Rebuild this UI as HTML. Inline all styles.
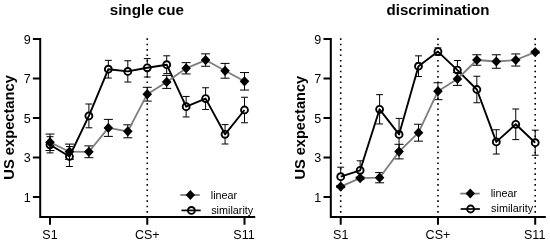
<!DOCTYPE html>
<html><head><meta charset="utf-8"><title>US expectancy</title>
<style>
html,body{margin:0;padding:0;background:#fff;}
svg{display:block;}
text{font-family:"Liberation Sans",Arial,sans-serif;fill:#000;}
.t{font-size:12.5px;}
.l{font-size:10.8px;}
.ti{font-size:15.2px;font-weight:bold;}
.yl{font-size:14.7px;font-weight:bold;}
</style></head><body>
<svg width="550" height="243" viewBox="0 0 550 243">
<rect width="550" height="243" fill="#fff"/>
<text transform="translate(13.8 127.4) rotate(-90)" text-anchor="middle" class="yl">US expectancy</text>
<text transform="translate(304.7 127.7) rotate(-90)" text-anchor="middle" class="yl" style="font-size:14.6px">US expectancy</text>
<line x1="147.25" y1="38.3" x2="147.25" y2="216" stroke="#000" stroke-width="1.6" stroke-dasharray="1.6 3.8"/>
<path d="M40.20 37.9V217.1H255.20" stroke="#000" stroke-width="2" fill="none" stroke-linejoin="miter"/>
<path d="M32.90 197.05H40.20M32.90 157.55H40.20M32.90 118.05H40.20M32.90 78.55H40.20M32.90 39.05H40.20M50.00 217.0V224.7M147.25 217.0V224.7M244.50 217.0V224.7" stroke="#000" stroke-width="2" fill="none"/>
<text x="30.60" y="202.45" text-anchor="end" class="t">1</text>
<text x="30.60" y="162.25" text-anchor="end" class="t">3</text>
<text x="30.60" y="122.75" text-anchor="end" class="t">5</text>
<text x="30.60" y="83.25" text-anchor="end" class="t">7</text>
<text x="30.60" y="43.75" text-anchor="end" class="t">9</text>
<text x="50.00" y="239.2" text-anchor="middle" class="t">S1</text>
<text x="147.25" y="239.2" text-anchor="middle" class="t">CS+</text>
<text x="244.00" y="239.2" text-anchor="middle" class="t">S11</text>
<text x="146.85" y="14.9" text-anchor="middle" class="ti" style="font-size:15.2px">single cue</text>
<path d="M50.00 136.70V152.90M46.55 136.70h6.9M46.55 152.90h6.9M69.45 146.50V166.50M66.00 146.50h6.9M66.00 166.50h6.9M88.90 104.00V127.80M85.45 104.00h6.9M85.45 127.80h6.9M108.35 60.35V78.05M104.90 60.35h6.9M104.90 78.05h6.9M127.80 60.75V82.05M124.35 60.75h6.9M124.35 82.05h6.9M147.25 58.60V77.00M143.80 58.60h6.9M143.80 77.00h6.9M166.70 55.80V73.60M163.25 55.80h6.9M163.25 73.60h6.9M186.15 96.45V116.95M182.70 96.45h6.9M182.70 116.95h6.9M205.60 87.75V109.45M202.15 87.75h6.9M202.15 109.45h6.9M225.05 124.60V144.00M221.60 124.60h6.9M221.60 144.00h6.9M244.50 97.25V122.75M241.05 97.25h6.9M241.05 122.75h6.9" stroke="#000" stroke-width="1" fill="none"/>
<circle cx="50.00" cy="144.80" r="3.45" fill="#fff" stroke="#000" stroke-width="1.9"/>
<circle cx="69.45" cy="156.50" r="3.45" fill="#fff" stroke="#000" stroke-width="1.9"/>
<circle cx="88.90" cy="115.90" r="3.45" fill="#fff" stroke="#000" stroke-width="1.9"/>
<circle cx="108.35" cy="69.20" r="3.45" fill="#fff" stroke="#000" stroke-width="1.9"/>
<circle cx="127.80" cy="71.40" r="3.45" fill="#fff" stroke="#000" stroke-width="1.9"/>
<circle cx="147.25" cy="67.80" r="3.45" fill="#fff" stroke="#000" stroke-width="1.9"/>
<circle cx="166.70" cy="64.70" r="3.45" fill="#fff" stroke="#000" stroke-width="1.9"/>
<circle cx="186.15" cy="106.70" r="3.45" fill="#fff" stroke="#000" stroke-width="1.9"/>
<circle cx="205.60" cy="98.60" r="3.45" fill="#fff" stroke="#000" stroke-width="1.9"/>
<circle cx="225.05" cy="134.30" r="3.45" fill="#fff" stroke="#000" stroke-width="1.9"/>
<circle cx="244.50" cy="110.00" r="3.45" fill="#fff" stroke="#000" stroke-width="1.9"/>
<path d="M50.00 144.80L69.45 156.50L88.90 115.90L108.35 69.20L127.80 71.40L147.25 67.80L166.70 64.70L186.15 106.70L205.60 98.60L225.05 134.30L244.50 110.00" stroke="#000" stroke-width="1.9" fill="none" stroke-linejoin="round"/>
<path d="M50.00 134.05V150.55M45.50 134.05h9.0M45.50 150.55h9.0M69.45 144.10V159.30M64.95 144.10h9.0M64.95 159.30h9.0M88.90 145.90V157.70M84.40 145.90h9.0M84.40 157.70h9.0M108.35 119.40V136.40M103.85 119.40h9.0M103.85 136.40h9.0M127.80 124.80V137.80M123.30 124.80h9.0M123.30 137.80h9.0M147.25 87.30V101.10M142.75 87.30h9.0M142.75 101.10h9.0M166.70 75.40V88.40M162.20 75.40h9.0M162.20 88.40h9.0M186.15 62.65V73.95M181.65 62.65h9.0M181.65 73.95h9.0M205.60 53.85V66.25M201.10 53.85h9.0M201.10 66.25h9.0M225.05 63.40V78.20M220.55 63.40h9.0M220.55 78.20h9.0M244.50 72.55V90.05M240.00 72.55h9.0M240.00 90.05h9.0" stroke="#000" stroke-width="1" fill="none"/>
<path d="M50.00 142.30L69.45 151.70L88.90 151.80L108.35 127.90L127.80 131.30L147.25 94.20L166.70 81.90L186.15 68.30L205.60 60.05L225.05 70.80L244.50 81.30" stroke="#7e7e7e" stroke-width="1.8" fill="none" stroke-linejoin="round"/>
<path d="M50.00 137.20l4.8 5.1l-4.8 5.1l-4.8 -5.1z" fill="#000"/>
<path d="M69.45 146.60l4.8 5.1l-4.8 5.1l-4.8 -5.1z" fill="#000"/>
<path d="M88.90 146.70l4.8 5.1l-4.8 5.1l-4.8 -5.1z" fill="#000"/>
<path d="M108.35 122.80l4.8 5.1l-4.8 5.1l-4.8 -5.1z" fill="#000"/>
<path d="M127.80 126.20l4.8 5.1l-4.8 5.1l-4.8 -5.1z" fill="#000"/>
<path d="M147.25 89.10l4.8 5.1l-4.8 5.1l-4.8 -5.1z" fill="#000"/>
<path d="M166.70 76.80l4.8 5.1l-4.8 5.1l-4.8 -5.1z" fill="#000"/>
<path d="M186.15 63.20l4.8 5.1l-4.8 5.1l-4.8 -5.1z" fill="#000"/>
<path d="M205.60 54.95l4.8 5.1l-4.8 5.1l-4.8 -5.1z" fill="#000"/>
<path d="M225.05 65.70l4.8 5.1l-4.8 5.1l-4.8 -5.1z" fill="#000"/>
<path d="M244.50 76.20l4.8 5.1l-4.8 5.1l-4.8 -5.1z" fill="#000"/>
<line x1="180.3" y1="195.0" x2="199.8" y2="195.0" stroke="#7e7e7e" stroke-width="1.8"/>
<path d="M190.4 190.0l4.7 5.0l-4.7 5.0l-4.7 -5.0z" fill="#000"/>
<text x="210.8" y="198.60" class="l">linear</text>
<circle cx="191.4" cy="210.4" r="3.45" fill="#fff" stroke="#000" stroke-width="1.9"/>
<line x1="181.5" y1="210.4" x2="200.7" y2="210.4" stroke="#000" stroke-width="1.7"/>
<text x="211.20000000000002" y="213.60" class="l">similarity</text>
<line x1="340.70" y1="38.3" x2="340.70" y2="216" stroke="#000" stroke-width="1.6" stroke-dasharray="1.6 3.8"/>
<line x1="437.95" y1="38.3" x2="437.95" y2="216" stroke="#000" stroke-width="1.6" stroke-dasharray="1.6 3.8"/>
<line x1="535.20" y1="38.3" x2="535.20" y2="216" stroke="#000" stroke-width="1.6" stroke-dasharray="1.6 3.8"/>
<path d="M330.80 37.9V217.1H545.80" stroke="#000" stroke-width="2" fill="none" stroke-linejoin="miter"/>
<path d="M323.50 197.05H330.80M323.50 157.55H330.80M323.50 118.05H330.80M323.50 78.55H330.80M323.50 39.05H330.80M340.70 217.0V224.7M437.95 217.0V224.7M535.20 217.0V224.7" stroke="#000" stroke-width="2" fill="none"/>
<text x="321.20" y="202.45" text-anchor="end" class="t">1</text>
<text x="321.20" y="162.25" text-anchor="end" class="t">3</text>
<text x="321.20" y="122.75" text-anchor="end" class="t">5</text>
<text x="321.20" y="83.25" text-anchor="end" class="t">7</text>
<text x="321.20" y="43.75" text-anchor="end" class="t">9</text>
<text x="340.70" y="239.2" text-anchor="middle" class="t">S1</text>
<text x="437.95" y="239.2" text-anchor="middle" class="t">CS+</text>
<text x="534.70" y="239.2" text-anchor="middle" class="t">S11</text>
<text x="437.95" y="14.9" text-anchor="middle" class="ti" style="font-size:15.05px">discrimination</text>
<path d="M340.70 167.20V186.20M337.25 167.20h6.9M337.25 186.20h6.9M360.15 160.80V179.80M356.70 160.80h6.9M356.70 179.80h6.9M379.60 94.65V123.95M376.15 94.65h6.9M376.15 123.95h6.9M399.05 118.40V150.40M395.60 118.40h6.9M395.60 150.40h6.9M418.50 55.85V76.55M415.05 55.85h6.9M415.05 76.55h6.9M437.95 47.90V55.30M434.50 47.90h6.9M434.50 55.30h6.9M457.40 60.50V79.70M453.95 60.50h6.9M453.95 79.70h6.9M476.85 76.25V102.75M473.40 76.25h6.9M473.40 102.75h6.9M496.30 129.75V154.05M492.85 129.75h6.9M492.85 154.05h6.9M515.75 109.00V139.60M512.30 109.00h6.9M512.30 139.60h6.9M535.20 130.15V155.25M531.75 130.15h6.9M531.75 155.25h6.9" stroke="#000" stroke-width="1" fill="none"/>
<circle cx="340.70" cy="176.70" r="3.45" fill="#fff" stroke="#000" stroke-width="1.9"/>
<circle cx="360.15" cy="170.30" r="3.45" fill="#fff" stroke="#000" stroke-width="1.9"/>
<circle cx="379.60" cy="109.30" r="3.45" fill="#fff" stroke="#000" stroke-width="1.9"/>
<circle cx="399.05" cy="134.40" r="3.45" fill="#fff" stroke="#000" stroke-width="1.9"/>
<circle cx="418.50" cy="66.20" r="3.45" fill="#fff" stroke="#000" stroke-width="1.9"/>
<circle cx="437.95" cy="51.60" r="3.45" fill="#fff" stroke="#000" stroke-width="1.9"/>
<circle cx="457.40" cy="70.10" r="3.45" fill="#fff" stroke="#000" stroke-width="1.9"/>
<circle cx="476.85" cy="89.50" r="3.45" fill="#fff" stroke="#000" stroke-width="1.9"/>
<circle cx="496.30" cy="141.90" r="3.45" fill="#fff" stroke="#000" stroke-width="1.9"/>
<circle cx="515.75" cy="124.30" r="3.45" fill="#fff" stroke="#000" stroke-width="1.9"/>
<circle cx="535.20" cy="142.70" r="3.45" fill="#fff" stroke="#000" stroke-width="1.9"/>
<path d="M340.70 176.70L360.15 170.30L379.60 109.30L399.05 134.40L418.50 66.20L437.95 51.60L457.40 70.10L476.85 89.50L496.30 141.90L515.75 124.30L535.20 142.70" stroke="#000" stroke-width="1.9" fill="none" stroke-linejoin="round"/>
<path d="M340.70 185.60V187.60M336.20 185.60h9.0M336.20 187.60h9.0M360.15 177.10V179.10M355.65 177.10h9.0M355.65 179.10h9.0M379.60 172.60V182.80M375.10 172.60h9.0M375.10 182.80h9.0M399.05 144.30V158.90M394.55 144.30h9.0M394.55 158.90h9.0M418.50 124.25V141.15M414.00 124.25h9.0M414.00 141.15h9.0M437.95 82.75V99.65M433.45 82.75h9.0M433.45 99.65h9.0M457.40 72.60V85.40M452.90 72.60h9.0M452.90 85.40h9.0M476.85 54.75V65.25M472.35 54.75h9.0M472.35 65.25h9.0M496.30 54.75V68.25M491.80 54.75h9.0M491.80 68.25h9.0M515.75 53.95V66.05M511.25 53.95h9.0M511.25 66.05h9.0M535.20 51.20V53.20M530.70 51.20h9.0M530.70 53.20h9.0" stroke="#000" stroke-width="1" fill="none"/>
<path d="M340.70 186.60L360.15 178.10L379.60 177.70L399.05 151.60L418.50 132.70L437.95 91.20L457.40 79.00L476.85 60.00L496.30 61.50L515.75 60.00L535.20 52.20" stroke="#7e7e7e" stroke-width="1.8" fill="none" stroke-linejoin="round"/>
<path d="M340.70 181.50l4.8 5.1l-4.8 5.1l-4.8 -5.1z" fill="#000"/>
<path d="M360.15 173.00l4.8 5.1l-4.8 5.1l-4.8 -5.1z" fill="#000"/>
<path d="M379.60 172.60l4.8 5.1l-4.8 5.1l-4.8 -5.1z" fill="#000"/>
<path d="M399.05 146.50l4.8 5.1l-4.8 5.1l-4.8 -5.1z" fill="#000"/>
<path d="M418.50 127.60l4.8 5.1l-4.8 5.1l-4.8 -5.1z" fill="#000"/>
<path d="M437.95 86.10l4.8 5.1l-4.8 5.1l-4.8 -5.1z" fill="#000"/>
<path d="M457.40 73.90l4.8 5.1l-4.8 5.1l-4.8 -5.1z" fill="#000"/>
<path d="M476.85 54.90l4.8 5.1l-4.8 5.1l-4.8 -5.1z" fill="#000"/>
<path d="M496.30 56.40l4.8 5.1l-4.8 5.1l-4.8 -5.1z" fill="#000"/>
<path d="M515.75 54.90l4.8 5.1l-4.8 5.1l-4.8 -5.1z" fill="#000"/>
<path d="M535.20 47.10l4.8 5.1l-4.8 5.1l-4.8 -5.1z" fill="#000"/>
<line x1="460.2" y1="193.6" x2="479.7" y2="193.6" stroke="#7e7e7e" stroke-width="1.8"/>
<path d="M470.3 188.6l4.7 5.0l-4.7 5.0l-4.7 -5.0z" fill="#000"/>
<text x="490.7" y="196.90" class="l">linear</text>
<circle cx="470.6" cy="209.0" r="3.45" fill="#fff" stroke="#000" stroke-width="1.9"/>
<line x1="460.7" y1="209.0" x2="479.90000000000003" y2="209.0" stroke="#000" stroke-width="1.7"/>
<text x="491.1" y="212.10" class="l">similarity</text>
</svg>
</body></html>
